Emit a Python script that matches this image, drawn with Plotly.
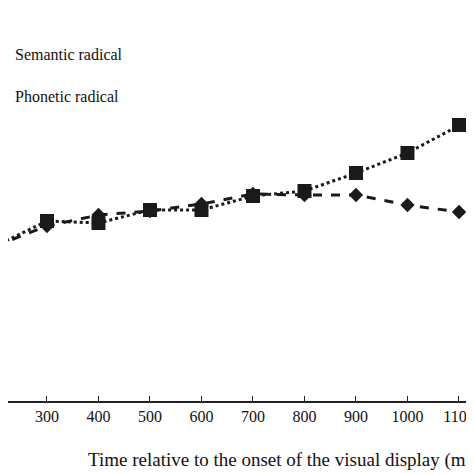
import plotly.graph_objects as go

# Data (y in arbitrary units, axis not visible)
times = [200, 300, 400, 500, 600, 700, 800, 900, 1000, 1100, 1200]
semantic = [0.310, 0.350, 0.372, 0.380, 0.394, 0.414, 0.412, 0.412, 0.392, 0.378, 0.356]
phonetic = [0.310, 0.360, 0.356, 0.382, 0.382, 0.410, 0.420, 0.456, 0.496, 0.552, 0.606]

fig = go.Figure()
fig.add_trace(go.Scatter(
    x=times, y=semantic, mode="lines+markers", name="Semantic radical",
    line=dict(color="#1a1a1a", width=3, dash="dash"),
    marker=dict(symbol="diamond", size=11, color="#1a1a1a"),
))
fig.add_trace(go.Scatter(
    x=times, y=phonetic, mode="lines+markers", name="Phonetic radical",
    line=dict(color="#1a1a1a", width=3, dash="dot"),
    marker=dict(symbol="square", size=14, color="#1a1a1a"),
))

serif = "Liberation Serif, Times New Roman, serif"
for label, ypx in [("Semantic radical", 46), ("Phonetic radical", 88)]:
    fig.add_annotation(text=label, xref="paper", yref="paper", x=5 / 474, xanchor="left",
                       y=1 - ypx / 393, yanchor="middle", showarrow=False,
                       font=dict(family=serif, size=16, color="#111"))

# axis title: reference is cropped, so place it as left-anchored text
fig.add_annotation(text="Time relative to the onset of the visual display (ms)",
                   xref="paper", yref="paper", x=78 / 474, xanchor="left",
                   y=-59 / 393, yanchor="middle", showarrow=False,
                   font=dict(family=serif, size=19, color="#111"))

fig.update_layout(
    width=474, height=474,
    margin=dict(l=0, r=0, t=0, b=81),
    paper_bgcolor="white", plot_bgcolor="white",
    showlegend=False,
    xaxis=dict(range=[224.3, 1144.7], tickvals=times, ticks="inside", ticklen=5,
               tickcolor="#222", showline=True, linecolor="#222", linewidth=1.5,
               showgrid=False, zeroline=False, automargin=False,
               tickfont=dict(family=serif, size=16, color="#111")),
    yaxis=dict(range=[0, 0.786], visible=False, automargin=False),
)

fig.write_html("out.html")
